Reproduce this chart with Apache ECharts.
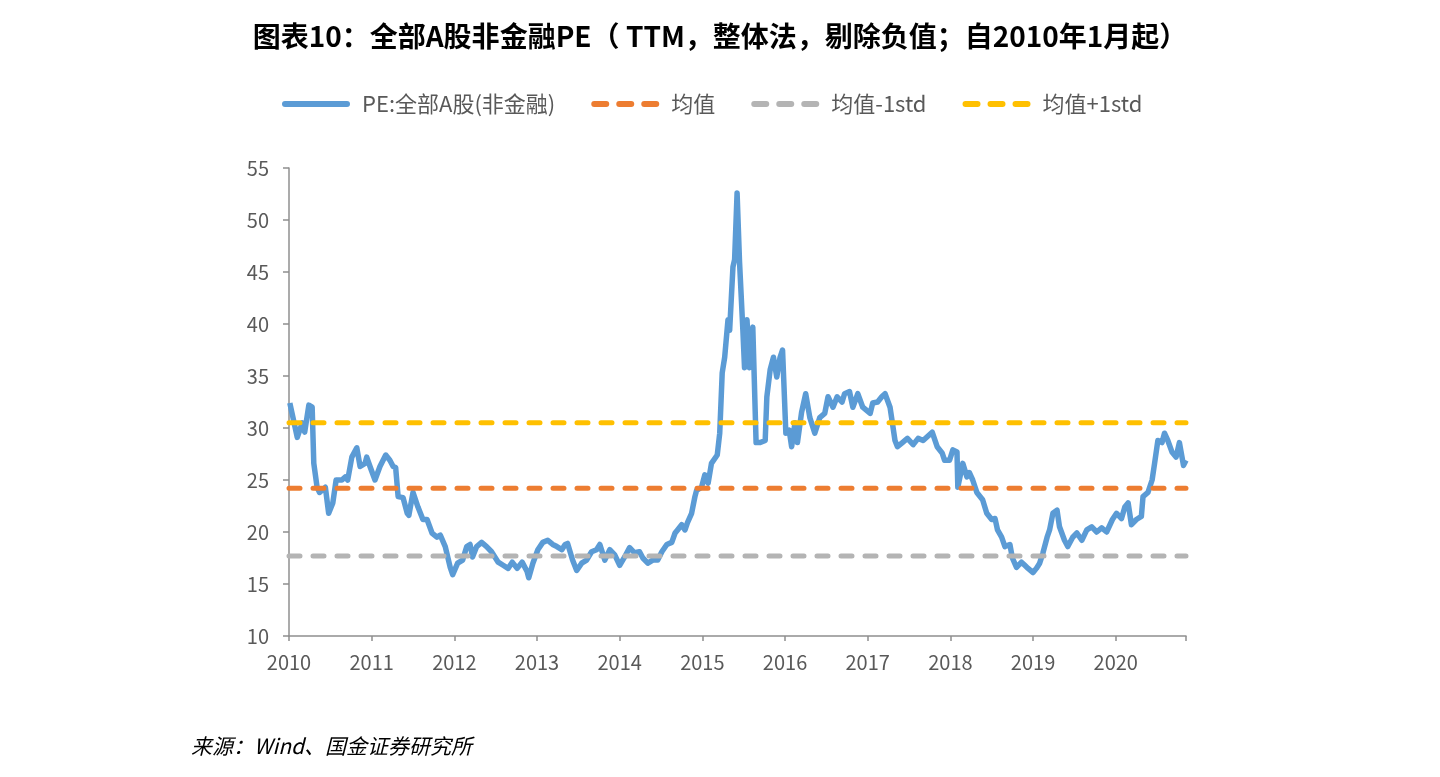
<!DOCTYPE html>
<html>
<head>
<meta charset="utf-8">
<script src="https://cdn.jsdelivr.net/npm/echarts@6/dist/echarts.min.js"></script>
<style>
html, body { margin: 0; padding: 0; background: #fff; }
#main { width: 1440px; height: 777px; }
</style>
</head>
<body>
<div id="main"></div>
<script>
// 时间（自2010年起的年份偏移）
var years = [0.01,0.10,0.16,0.19,0.24,0.28,0.30,0.34,0.37,0.44,0.48,0.53,0.57,0.64,0.68,0.71,0.76,0.82,0.86,0.92,
	0.94,0.98,1.04,1.10,1.17,1.22,1.26,1.29,1.32,1.38,1.43,1.45,1.50,1.56,1.62,1.67,1.73,1.79,1.83,1.89,
	1.95,1.98,2.04,2.10,2.15,2.19,2.22,2.27,2.33,2.39,2.45,2.53,2.59,2.65,2.70,2.76,2.82,2.88,2.90,2.95,
	3.01,3.07,3.13,3.19,3.24,3.30,3.34,3.37,3.43,3.48,3.54,3.60,3.66,3.72,3.76,3.82,3.88,3.94,4.00,4.06,
	4.12,4.18,4.24,4.28,4.34,4.40,4.46,4.51,4.57,4.63,4.67,4.70,4.75,4.79,4.82,4.87,4.91,4.93,4.99,5.03,
	5.07,5.11,5.18,5.21,5.24,5.27,5.31,5.33,5.37,5.39,5.42,5.45,5.49,5.51,5.54,5.57,5.61,5.65,5.70,5.76,
	5.78,5.82,5.86,5.90,5.94,5.97,6.01,6.05,6.08,6.12,6.15,6.20,6.25,6.30,6.36,6.42,6.48,6.52,6.58,6.63,
	6.69,6.72,6.78,6.82,6.88,6.94,7.03,7.06,7.12,7.17,7.21,7.27,7.33,7.36,7.42,7.48,7.55,7.61,7.67,7.78,
	7.84,7.90,7.93,7.99,8.03,8.08,8.09,8.15,8.20,8.23,8.27,8.32,8.39,8.44,8.50,8.54,8.57,8.62,8.66,8.72,
	8.75,8.80,8.86,8.90,8.94,9.00,9.04,9.08,9.12,9.17,9.20,9.24,9.29,9.32,9.38,9.42,9.48,9.53,9.59,9.65,
	9.71,9.77,9.83,9.89,9.96,10.01,10.07,10.11,10.15,10.19,10.25,10.31,10.33,10.39,10.44,10.47,10.51,10.56,10.59,10.63,
	10.68,10.73,10.77,10.82,10.85];
// PE:全部A股(非金融)
var pe = [32.4,29.1,30.5,29.6,32.2,32.0,26.6,24.3,23.8,24.3,21.8,22.8,25.0,25.0,25.3,25.0,27.2,28.1,26.3,26.6,
	27.2,26.3,25.0,26.3,27.4,26.9,26.3,26.2,23.4,23.3,21.8,21.6,23.8,22.4,21.2,21.2,19.9,19.5,19.7,18.6,
	16.6,15.9,17.0,17.3,18.6,18.8,17.6,18.6,19.0,18.6,18.1,17.1,16.8,16.5,17.1,16.5,17.1,16.2,15.6,17.0,
	18.3,19.0,19.2,18.8,18.6,18.3,18.8,18.9,17.3,16.3,17.0,17.3,18.1,18.3,18.8,17.3,18.3,17.8,16.8,17.6,
	18.5,18.0,18.1,17.5,17.0,17.3,17.3,18.1,18.8,19.0,19.9,20.2,20.7,20.2,20.9,21.8,23.4,24.0,24.3,25.5,
	24.7,26.6,27.4,29.5,35.3,36.8,40.4,39.4,45.5,46.2,52.6,45.9,39.4,35.8,40.4,35.8,39.7,28.6,28.6,28.8,
	33.0,35.6,36.8,34.9,36.8,37.5,29.5,29.8,28.2,30.5,28.6,31.5,33.3,31.0,29.5,31.0,31.4,33.0,32.0,33.0,
	32.5,33.3,33.5,32.0,33.3,32.0,31.4,32.4,32.5,33.0,33.3,32.0,28.8,28.2,28.6,29.0,28.4,29.0,28.8,29.6,
	28.2,27.6,26.9,26.9,27.9,27.7,24.3,26.6,25.3,25.7,25.0,23.8,23.1,21.8,21.2,21.3,20.2,19.5,18.6,18.8,
	17.5,16.6,17.1,16.8,16.5,16.1,16.5,17.0,18.0,19.5,20.2,21.8,22.1,20.5,19.2,18.6,19.5,19.9,19.2,20.2,
	20.5,20.0,20.4,20.0,21.2,21.8,21.3,22.4,22.8,20.7,21.2,21.5,23.4,23.8,25.0,26.6,28.8,28.6,29.5,28.8,
	27.7,27.2,28.6,26.4,26.9];
var meanVal = 24.2;
var stdLow = 17.7;
var stdHigh = 30.5;
var startYear = 2010;
var endYear = 2020.85;

var peData = [];
for (var i = 0; i < years.length; i++) {
	peData.push([startYear + years[i], pe[i]]);
}
function flat(v) {
	return [[startYear, v], [endYear, v]];
}

var myChart = echarts.init(document.getElementById('main'));
var font = '"Noto Sans CJK SC", "Noto Sans", sans-serif';
var dashStyle = function (c) {
	return { color: c, width: 5, type: [11, 13], cap: 'round' };
};
// 图例图标：实线 / 三段圆角虚线
var solidIcon = 'path://M3,0H65A3,3 0 0 1 65,6H3A3,3 0 0 1 3,0Z';
var dashIcon = 'path://M3,0H15A3,3 0 0 1 15,6H3A3,3 0 0 1 3,0Z' +
	'M28,0H40A3,3 0 0 1 40,6H28A3,3 0 0 1 28,0Z' +
	'M53,0H65A3,3 0 0 1 65,6H53A3,3 0 0 1 53,0Z';

var option = {
	animation: false,
	backgroundColor: '#fff',
	textStyle: { fontFamily: font },
	title: [{
		text: '图表10：全部A股非金融PE（ TTM，整体法，剔除负值；自2010年1月起）',
		left: 'center',
		top: 17,
		textStyle: { fontSize: 28, fontWeight: 'bold', color: '#000', fontFamily: font }
	}, {
		text: '来源：Wind、国金证券研究所',
		left: 186,
		top: 731,
		textStyle: { fontSize: 21, fontWeight: 'normal', fontStyle: 'italic', color: '#000', fontFamily: font }
	}],
	legend: {
		top: 88,
		left: 277,
		itemWidth: 68,
		itemHeight: 6,
		itemGap: 36,
		textStyle: { fontSize: 22, color: '#595959', fontFamily: font, padding: [0, 0, 0, 7] },
		data: [
			{ name: 'PE:全部A股(非金融)', icon: solidIcon },
			{ name: '均值', icon: dashIcon },
			{ name: '均值-1std', icon: dashIcon },
			{ name: '均值+1std', icon: dashIcon }
		]
	},
	grid: { left: 289, right: 254, top: 168, bottom: 141 },
	xAxis: {
		type: 'value',
		min: startYear,
		max: endYear,
		interval: 1,
		splitLine: { show: false },
		axisLine: { lineStyle: { color: '#8F8F8F', width: 1.5 } },
		axisTick: { show: true, length: 5, lineStyle: { color: '#8F8F8F', width: 1.5 } },
		axisLabel: {
			fontSize: 20, color: '#595959', margin: 16,
			formatter: function (v) { return Math.abs(v - Math.round(v)) < 1e-6 ? String(Math.round(v)) : ''; }
		}
	},
	yAxis: {
		type: 'value',
		min: 10,
		max: 55,
		interval: 5,
		splitLine: { show: false },
		axisLine: { show: true, lineStyle: { color: '#8F8F8F', width: 1.5 } },
		axisTick: { show: true, length: 6, lineStyle: { color: '#8F8F8F', width: 1.5 } },
		axisLabel: { fontSize: 20, color: '#595959', margin: 20 }
	},
	series: [{
		name: 'PE:全部A股(非金融)',
		type: 'line',
		showSymbol: false,
		symbol: 'none',
		z: 3,
		lineStyle: { color: '#5B9BD5', width: 5.5, join: 'round' },
		itemStyle: { color: '#5B9BD5' },
		data: peData
	}, {
		name: '均值',
		type: 'line',
		symbol: 'none',
		z: 4,
		lineStyle: dashStyle('#ED7D31'),
		itemStyle: { color: '#ED7D31' },
		data: flat(meanVal)
	}, {
		name: '均值-1std',
		type: 'line',
		symbol: 'none',
		z: 4,
		lineStyle: dashStyle('#B4B4B4'),
		itemStyle: { color: '#B4B4B4' },
		data: flat(stdLow)
	}, {
		name: '均值+1std',
		type: 'line',
		symbol: 'none',
		z: 4,
		lineStyle: dashStyle('#FFC000'),
		itemStyle: { color: '#FFC000' },
		data: flat(stdHigh)
	}]
};

myChart.setOption(option);
</script>
</body>
</html>
